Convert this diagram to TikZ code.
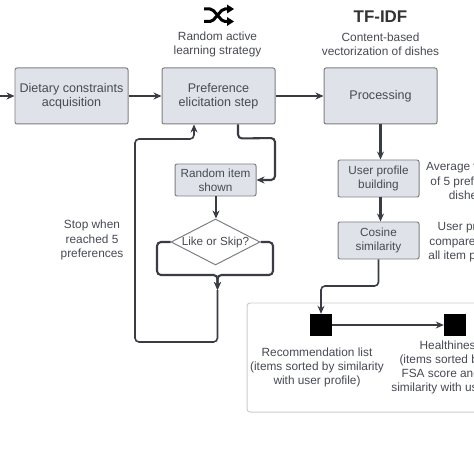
\documentclass[tikz,border=0pt]{standalone}
\usepackage{fontspec}
\setmainfont{Liberation Sans}
\usepackage{xcolor}
\usetikzlibrary{
  arrows.meta,
  positioning,
  shapes.geometric
}
\definecolor{boxfill}{RGB}{223, 226, 232}
\definecolor{boxedge}{RGB}{125, 127, 130}
\definecolor{flowdark}{RGB}{58, 60, 68}
\definecolor{textgray}{RGB}{72, 74, 84}
\definecolor{paneledge}{RGB}{205, 205, 205}
\tikzset{
  stepbox/.style={draw=boxedge, line width=1pt, fill=boxfill, rounded corners=2bp, text=textgray,
    align=center, inner sep=0pt, font=\fontsize{12.6}{14.3}\selectfont},
  smallbox/.style={stepbox, minimum width=81bp, font=\fontsize{11.8}{14.3}\selectfont},
  decision/.style={diamond, draw=boxedge, line width=1pt, fill=white, inner sep=0pt, text=textgray,
    minimum width=89bp, minimum height=46bp},
  caption/.style={text=textgray, align=center, inner sep=0pt, font=\fontsize{11.9}{14.3}\selectfont},
  listmark/.style={fill=black, minimum size=22bp, inner sep=0pt},
  flow/.style={draw=flowdark, line width=1.6pt, rounded corners=4bp, -{Stealth[length=8bp, width=7bp]}},
  thickflow/.style={flow, line width=2.1pt}
}
\begin{document}
\begin{tikzpicture}[x=1bp, y=-1bp]
  \clip (0, 0) rectangle (474, 474);
  \fill[white] (0, 0) rectangle (474, 474);
  \draw[paneledge, line width=1pt, rounded corners=3bp] (247, 303) rectangle (500, 412);
  % top row
  \coordinate (entry) at (0, 96);
  \node[stepbox, minimum width=113bp, minimum height=56bp] (dietary) at (71.5, 96) {Dietary constraints\\acquisition};
  \node[stepbox, minimum width=113bp, minimum height=56bp] (preference) at (218.5, 96) {Preference\\elicitation step};
  \node[stepbox, minimum width=113bp, minimum height=56bp] (processing) at (380.5, 96) {Processing};
  % shuffle icon
  \draw[black, line width=3bp, rounded corners=2bp] (204, 9) -- (212, 9) -- (223, 21.5) -- (228, 21.5);
  \draw[black, line width=3bp, rounded corners=2bp] (204, 21.5) -- (212, 21.5) -- (223, 9) -- (228, 9);
  \fill[black] (227, 4.5) -- (234, 9) -- (227, 13.5) -- cycle;
  \fill[black] (227, 17) -- (234, 21.5) -- (227, 26) -- cycle;
  \node[caption] (randomnote) at (217.5, 44.5) {Random active\\learning strategy};
  \node[caption, font=\bfseries\fontsize{17}{20}\selectfont, text=black!80] (tfidf) at (380.5, 17) {TF-IDF};
  \node[caption] (contentnote) at (380.5, 44.5) {Content-based\\vectorization of dishes};
  % left loop
  \node[smallbox, minimum height=32bp] (randomitem) at (215.5, 180) {Random item\\shown};
  \node[decision, label={center:\textcolor{textgray}{\fontsize{11.7}{14.3}\selectfont Like or Skip?}}] (likeskip) at (215.5, 242) {};
  \coordinate (merge) at (217.5, 290);
  \node[caption] (stopnote) at (92, 240) {Stop when\\reached 5\\preferences};
  % right column
  \node[smallbox, minimum height=37bp] (profile) at (378.5, 178.5) {User profile\\building};
  \node[smallbox, minimum height=37bp] (cosine) at (378.5, 240.5) {Cosine\\similarity};
  \node[caption] (averagenote) at (466, 181) {Average vector\\of 5 preferred\\dishes};
  \node[caption] (usernote) at (468, 242) {User profile\\compared with\\all item profiles};
  % bottom panel
  \node[listmark] (sorted) at (321, 325) {};
  \node[listmark] (healthy) at (455, 325) {};
  \node[caption] (sortednote) at (317, 367.5) {Recommendation list\\(items sorted by similarity\\with user profile)};
  \node[caption] (healthynote) at (459.5, 367.5) {Healthiness list\\(items sorted by health\\FSA score and cosine\\similarity with user profile)};
  % connectors
  \draw[flow] (entry) -- (dietary);
  \draw[flow] (dietary) -- (preference);
  \draw[flow] (preference) -- (processing);
  \draw[thickflow] (processing.south) -- (processing.south |- profile.north);
  \draw[thickflow] (processing.south |- profile.south) -- (processing.south |- cosine.north);
  \draw[thickflow] ([xshift=19.5bp]preference.south) -- ++(0, 14) -- (275, 138) -- (275, 180) -- (randomitem.east);
  \draw[thickflow] ([xshift=0.5bp]randomitem.south) -- ([xshift=0.5bp]likeskip.north);
  \draw[thickflow] (likeskip.west) -- (157, 242) -- (157, 275) -- (217.5, 275) -- (merge);
  \draw[thickflow] (likeskip.east) -- (273, 242) -- (273, 275) -- (217.5, 275) -- (merge);
  \draw[flow] (merge) -- (217.5, 342) -- (135, 342) -- (135, 139) -- (194, 139) -- ([xshift=-24.5bp]preference.south);
  \draw[flow] (cosine.south) -- (378.5, 286) -- (321, 286) -- (sorted.north);
  \draw[flow] (sorted) -- (healthy);
\end{tikzpicture}
\end{document}
